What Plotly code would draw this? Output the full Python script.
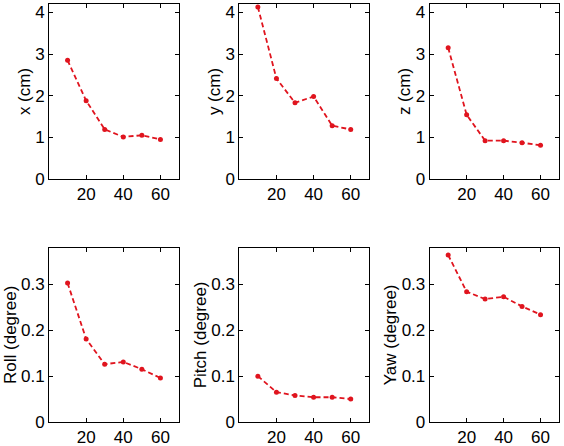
import plotly.graph_objects as go
from plotly.subplots import make_subplots

steps = [10, 20, 30, 40, 50, 60]

x_cm = [2.85, 1.88, 1.19, 1.01, 1.05, 0.95]
y_cm = [4.13, 2.41, 1.83, 1.98, 1.28, 1.19]
z_cm = [3.15, 1.54, 0.92, 0.92, 0.87, 0.81]
roll_deg = [0.303, 0.181, 0.126, 0.131, 0.115, 0.096]
pitch_deg = [0.100, 0.065, 0.058, 0.054, 0.054, 0.050]
yaw_deg = [0.364, 0.284, 0.268, 0.273, 0.252, 0.234]

panels = [
    (x_cm, "x (cm)"), (y_cm, "y (cm)"), (z_cm, "z (cm)"),
    (roll_deg, "Roll (degree)"), (pitch_deg, "Pitch (degree)"), (yaw_deg, "Yaw (degree)"),
]

W, H = 564, 446
col_px = [(49, 179), (239.3, 369.3), (429.7, 559)]
row_px = [(4, 179), (247.7, 422)]

fig = make_subplots(rows=2, cols=3)

red = "#e0141e"
font = dict(family="Liberation Sans, Arial, sans-serif", size=17, color="black")

for i, (vals, label) in enumerate(panels):
    r, c = i // 3 + 1, i % 3 + 1
    fig.add_trace(
        go.Scatter(
            x=steps, y=vals, mode="lines+markers",
            line=dict(color=red, width=1.8, dash="5px,3px"),
            marker=dict(color=red, size=5),
            showlegend=False,
        ),
        row=r, col=c,
    )
    x0, x1 = col_px[c - 1]
    y0, y1 = row_px[r - 1]
    if r == 1:
        yr, yt = [0, 4.2], [0, 1, 2, 3, 4]
        ytxt = ["0", "1", "2", "3", "4"]
    else:
        yr, yt = [0, 0.38], [0, 0.1, 0.2, 0.3]
        ytxt = ["0", "0.1", "0.2", "0.3"]
    fig.update_xaxes(
        domain=[x0 / W, x1 / W], range=[0, 70], tickvals=[20, 40, 60],
        ticks="inside", ticklen=4, tickcolor="black", mirror="ticks",
        showline=True, linecolor="black", linewidth=1, showgrid=False,
        zeroline=False, tickfont=font, automargin=False, row=r, col=c,
    )
    fig.update_yaxes(
        domain=[1 - y1 / H, 1 - y0 / H], range=yr, tickvals=yt, ticktext=ytxt,
        ticks="inside", ticklen=4, tickcolor="black", mirror="ticks",
        showline=True, linecolor="black", linewidth=1, showgrid=False,
        zeroline=False, tickfont=font, automargin=False,
        title=dict(text=label, font=font, standoff=0), row=r, col=c,
    )

fig.update_layout(
    width=W, height=H,
    margin=dict(l=0, r=0, t=0, b=0),
    plot_bgcolor="white", paper_bgcolor="white",
)

# the page's default 8px body margin would push the figure out of the window
fig.write_html(
    "out.html",
    config={"displayModeBar": False},
    post_script="document.body.style.margin = '0'; document.body.style.overflow = 'hidden';",
)
